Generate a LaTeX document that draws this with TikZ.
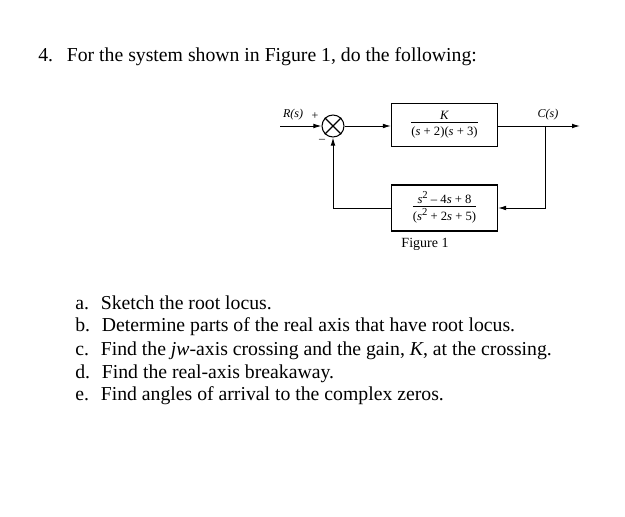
\documentclass[tikz,border=0pt]{standalone}
\usepackage{fontspec}
\setmainfont{Liberation Serif}
\usetikzlibrary{arrows.meta}
\newcommand{\sv}{\textit{s}}
\newcommand{\sq}{\raisebox{3.5pt}{\fontsize{8}{8}\selectfont 2}}
\newcommand{\fracline}[2]{\begin{tabular}{@{}c@{}}#1\\[-1pt]\hline\rule{0pt}{10pt}#2\end{tabular}}
\begin{document}
\begin{tikzpicture}[x=0.75pt,y=-0.75pt,
  blk/.style={draw,line width=0.9pt,minimum width=106*0.75pt,inner sep=0pt,font=\fontsize{9.5}{10}\selectfont},
  sig/.style={line width=0.7pt,-{Latex[length=6pt,width=3.5pt]}},
  ln/.style={line width=0.7pt},
  lbl/.style={font=\fontsize{9}{9}\selectfont\itshape},
  txt/.style={anchor=west,font=\fontsize{14.8}{17}\selectfont,inner sep=0pt}]
\useasboundingbox (0,0) rectangle (625,517);
\node[txt] (title) at (38,57) {4.\hspace{0.7em}For the system shown in Figure 1, do the following:};
\node[draw,circle,line width=0.8pt,minimum size=22*0.75pt,inner sep=0pt] (sum) at (333,126) {};
\draw[line width=0.8pt] (sum.45)--(sum.225) (sum.135)--(sum.315);
\node[blk,minimum height=43*0.75pt] (g) at (444.5,125) {\fracline{\textit{K}}{(\sv{} + 2)(\sv{} + 3)}};
\node[blk,minimum height=46*0.75pt] (h) at (444.5,208) {\fracline{\sv\sq{} -- 4\sv{} + 8}{(\sv\sq{} + 2\sv{} + 5)}};
\coordinate (in) at (280,126);
\coordinate (br) at (545,126);
\coordinate (out) at (580,126);
\draw[sig] (in)--(sum);
\draw[sig] (sum)--(sum-|g.west);
\draw[ln] (br-|g.east)--(br);
\draw[sig] (br)--(out);
\draw[sig] (br)|-(h.east);
\draw[sig] (h.west)-|(sum.south);
\node[lbl] (r) at (293,115) {R(s)};
\node[font=\fontsize{9}{9}\selectfont] (plus) at (315,116) {+};
\node[font=\fontsize{9}{9}\selectfont] (minus) at (322,141) {--};
\node[lbl] (c) at (548,115) {C(s)};
\node[font=\fontsize{10.5}{11}\selectfont] (fig) at (425,244) {Figure 1};
\node[txt] (a) at (75,303) {a.\hspace{0.6em}Sketch the root locus.};
\node[txt] (b) at (75,327) {b.\hspace{0.6em}Determine parts of the real axis that have root locus.};
\node[txt] (cc) at (75,351) {c.\hspace{0.6em}Find the \textit{jw}-axis crossing and the gain, \textit{K}, at the crossing.};
\node[txt] (d) at (75,374) {d.\hspace{0.6em}Find the real-axis breakaway.};
\node[txt] (e) at (75,396) {e.\hspace{0.6em}Find angles of arrival to the complex zeros.};
\end{tikzpicture}
\end{document}
